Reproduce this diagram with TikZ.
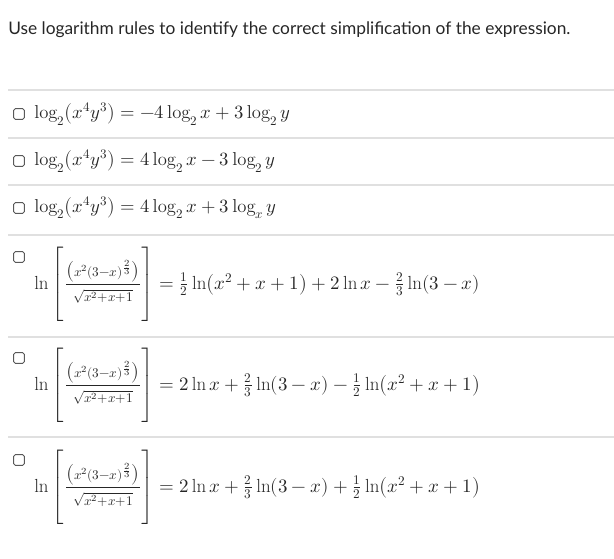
\documentclass[tikz,border=0pt]{standalone}
\usepackage{amsmath}
\usepackage{fontspec}
\setmainfont{Lato}
\usepackage{unicode-math}
\setmathfont{Latin Modern Math}
\setmathrm{Latin Modern Roman}
\setoperatorfont\mathrm
\newcommand{\lnfrac}{\left[\dfrac{\left(\scriptstyle x^2(3-x)^{\frac{2}{3}}\right)}{\scriptstyle\sqrt{x^2+x+1}}\rule[-27pt]{0pt}{22pt}\right]}
\begin{document}
\begin{tikzpicture}[x=0.75pt,y=-0.75pt,
  sep/.style={draw=black!12,line width=0.8pt},
  cbox/.style={draw=black!65,line width=0.7pt,rounded corners=1.2pt,minimum size=8pt,inner sep=0pt},
  eq/.style={anchor=west,inner sep=0pt,font=\fontsize{14}{16}\selectfont,text=black!85},
  eqb/.style={anchor=west,inner sep=0pt,font=\fontsize{14.2}{16}\selectfont,text=black!85}]
\useasboundingbox (0,0) rectangle (614,558);
\node[anchor=west,inner sep=0pt,font=\fontsize{13}{15}\selectfont,text=black!85] (title) at (8,30) {Use logarithm rules to identify the correct simplification of the expression.};
\foreach \y/\n in {90/a,138/b,185/c,235/d,337/e,437/f} \draw[sep] (8,\y) coordinate (\n1) -- (614,\y) coordinate (\n2);
\node[cbox] (c1) at (19,114) {};
\node[eq] (e1) at (34,114) {$\log_2\!\left(x^4y^3\right)=-4\log_2 x+3\log_2 y$};
\node[cbox] (c2) at (19,161) {};
\node[eq] (e2) at (34,161) {$\log_2\!\left(x^4y^3\right)=4\log_2 x-3\log_2 y$};
\node[cbox] (c3) at (19,208) {};
\node[eq] (e3) at (34,208) {$\log_2\!\left(x^4y^3\right)=4\log_2 x+3\log_x y$};
\node[cbox] (c4) at (19,257) {};
\node[eqb,anchor=base west] (e4) at (34,289) {$\ln\lnfrac=\tfrac{1}{2}\ln\!\left(x^2+x+1\right)+2\ln x-\tfrac{2}{3}\ln(3-x)$};
\node[cbox] (c5) at (19,358) {};
\node[eqb,anchor=base west] (e5) at (34,390) {$\ln\lnfrac=2\ln x+\tfrac{2}{3}\ln(3-x)-\tfrac{1}{2}\ln\!\left(x^2+x+1\right)$};
\node[cbox] (c6) at (19,460) {};
\node[eqb,anchor=base west] (e6) at (34,492) {$\ln\lnfrac=2\ln x+\tfrac{2}{3}\ln(3-x)+\tfrac{1}{2}\ln\!\left(x^2+x+1\right)$};
\end{tikzpicture}
\end{document}
